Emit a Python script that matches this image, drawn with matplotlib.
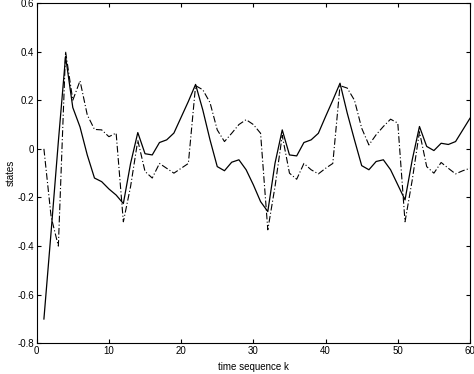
import matplotlib
matplotlib.use("Agg")
import matplotlib.pyplot as plt
import numpy as np

plt.rcParams['font.family'] = ['Liberation Sans', 'DejaVu Sans']
plt.rcParams['axes.unicode_minus'] = False

k = list(range(1, 61))
solid = [-0.70, -0.34, 0.03, 0.38, 0.17, 0.09, -0.025, -0.12, -0.135, -0.165,
         -0.19, -0.225, -0.06, 0.067, -0.02, -0.025, 0.026, 0.037, 0.065, 0.13,
         0.195, 0.265, 0.16, 0.037, -0.073, -0.09, -0.055, -0.045, -0.086, -0.148,
         -0.217, -0.258, -0.059, 0.078, -0.025, -0.029, 0.026, 0.037, 0.064, 0.133,
         0.2, 0.27, 0.147, 0.037, -0.069, -0.086, -0.052, -0.045, -0.086, -0.148,
         -0.21, -0.045, 0.092, 0.01, -0.007, 0.023, 0.018, 0.03, 0.078, 0.126]
dashdot = [0.0, -0.28, -0.40, 0.40, 0.20, 0.28, 0.14, 0.08, 0.078, 0.05,
           0.065, -0.30, -0.155, 0.035, -0.093, -0.12, -0.06, -0.08, -0.10, -0.08,
           -0.06, 0.26, 0.243, 0.19, 0.078, 0.03, 0.064, 0.10, 0.12, 0.10,
           0.064, -0.333, -0.155, 0.055, -0.10, -0.125, -0.06, -0.086, -0.103, -0.08,
           -0.06, 0.26, 0.25, 0.20, 0.085, 0.016, 0.058, 0.092, 0.122, 0.106,
           -0.30, -0.128, 0.07, -0.073, -0.10, -0.056, -0.08, -0.103, -0.09, -0.08]

xticks = [0, 10, 20, 30, 40, 50, 60]
yticks = [-0.8, -0.6, -0.4, -0.2, 0, 0.2, 0.4, 0.6]
ytick_labels = ['-0.8', '-0.6', '-0.4', '-0.2', '0', '0.2', '0.4', '0.6']

fig = plt.figure(figsize=(4.74, 3.74), dpi=100)
ax = fig.add_axes([0.0774, 0.082, 0.9142, 0.910])
ax.plot(k, solid, color='black', linestyle='-', linewidth=0.9)
ax.plot(k, dashdot, color='black', linestyle='-.', linewidth=0.8,
        dashes=(6, 2, 1, 2))
ax.set_xlim(0, 60)
ax.set_ylim(-0.8, 0.6)
ax.set_xticks(xticks)
ax.set_yticks(yticks)
ax.set_yticklabels(ytick_labels)
ax.tick_params(direction='in', top=True, right=True, labelsize=7, length=3,
               width=0.8, pad=2)
for s in ax.spines.values():
    s.set_linewidth(0.8)
ax.set_xlabel('time sequence k', fontsize=7, labelpad=4)
ax.set_ylabel('states', fontsize=7, labelpad=1)
fig.savefig('out.png', dpi=100)
